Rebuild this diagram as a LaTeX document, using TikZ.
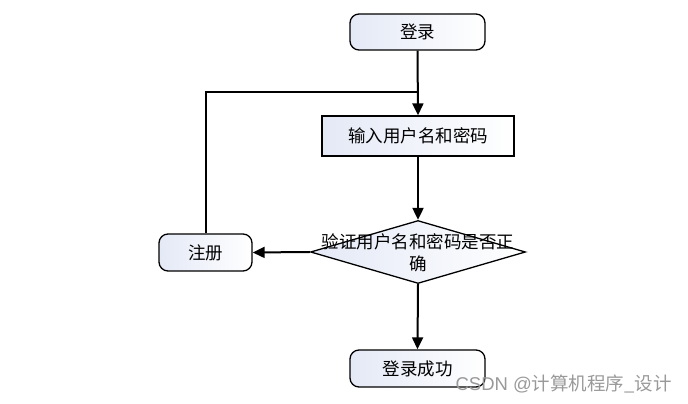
\documentclass[tikz,border=0pt]{standalone}
\usepackage{fontspec}
\setmainfont{Noto Sans CJK SC}
\newfontfamily\cjk{Noto Sans CJK SC}
\newfontfamily\wmlatin{Liberation Sans}
\usetikzlibrary{shapes.geometric,arrows.meta,shadings}
\definecolor{boxleft}{HTML}{E4E9F6}
\tikzset{
  x=1pt,y=1pt,
  txt/.style={font=\cjk\fontsize{17.5}{22}\selectfont},
  base/.style={draw=black,line width=1.3pt,left color=boxleft,right color=white,
    txt,inner sep=0pt,align=center},
  roundbox/.style={base,rounded corners=9pt},
  rectbox/.style={base},
  flow/.style={line width=2pt,-{Triangle[length=12pt,width=11pt]}},
  plain/.style={line width=2pt}
}
\begin{document}
\begin{tikzpicture}
\useasboundingbox (0,0) rectangle (688,404);
\node[roundbox,minimum width=135pt,minimum height=36pt] (login) at (417.5,372) {登录};
\node[rectbox,minimum width=192pt,minimum height=40pt] (input) at (418,268) {输入用户名和密码};
\node[base,diamond,minimum width=215pt,minimum height=63pt,inner sep=0pt] (check) at (418,152) {};
\node[txt,align=center,inner sep=0pt] (checktext) at (418,151) {验证用户名和密码是否正\\确};
\node[roundbox,minimum width=93pt,minimum height=37pt] (reg) at (205.5,151.5) {注册};
\node[roundbox,minimum width=135pt,minimum height=37pt] (ok) at (417.5,35.5) {登录成功};
\coordinate (corner) at (205.5,312);
\coordinate (join) at (418,312);
\draw[flow] (login.south) -- (input.north);
\draw[flow] (input.south) -- (check.north);
\draw[flow] (check.west) -- (reg.east);
\draw[flow] (check.south) -- (ok.north);
\draw[plain] (reg.north) -- (corner) -- (join);
\node[font=\cjk\fontsize{18.5}{21}\selectfont,text=black!40,inner sep=0pt,anchor=east] (wm) at (672,20) {{\wmlatin CSDN @}计算机程序\_设计};
\end{tikzpicture}
\end{document}
